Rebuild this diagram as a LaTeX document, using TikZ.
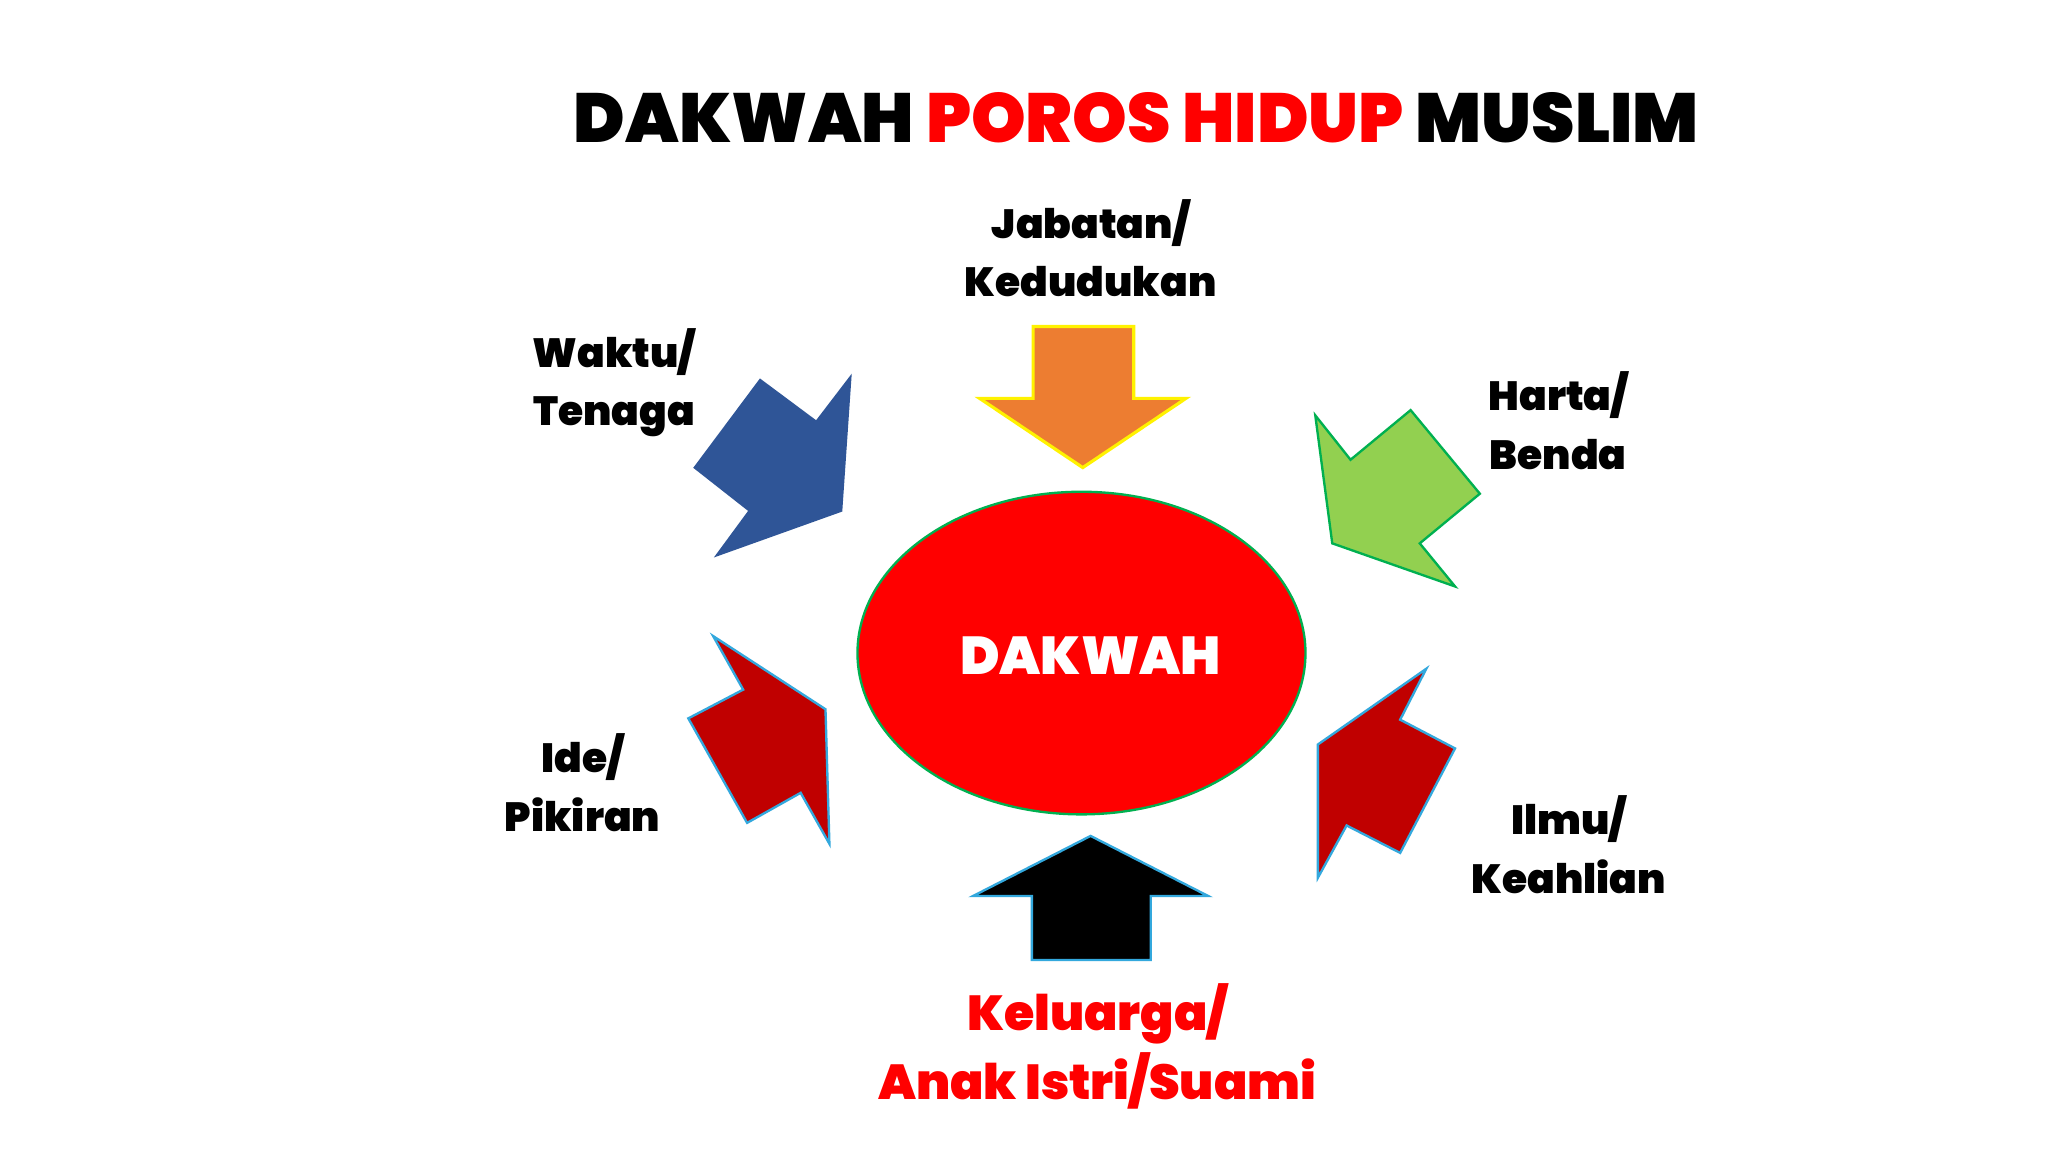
\documentclass[tikz,border=0pt]{standalone}
\usepackage{fontspec}
\IfFontExistsTF{Poppins Black}{\setmainfont{Poppins}[BoldFont={Poppins Black}]}{\setmainfont{Poppins}}
\usetikzlibrary{shapes.geometric}
\definecolor{orangeA}{HTML}{ED7D31}
\definecolor{blueA}{HTML}{2F5597}
\definecolor{greenA}{HTML}{92D050}
\definecolor{greenL}{HTML}{00B050}
\definecolor{darkredA}{HTML}{C00000}
\definecolor{lightblueA}{HTML}{33A8DD}
\definecolor{redA}{HTML}{FF0000}
\tikzset{
  lbl/.style={align=center, font=\bfseries\fontsize{15.6}{22.5}\selectfont, text=black, inner sep=0pt},
  redlbl/.style={align=center, font=\bfseries\fontsize{18.8}{26.5}\selectfont, text=redA, inner sep=0pt},
  arr/.style={line width=0.9pt, line join=miter},
}
\begin{document}
\begin{tikzpicture}[x=0.5pt,y=-0.5pt]
\useasboundingbox (0,0) rectangle (1568,882);
\fill[white] (0,0) rectangle (1568,882);
% title
\node[inner sep=0pt, font=\bfseries\fontsize{26.6}{30}\selectfont] (title) at (870,90) {DAKWAH \textcolor{redA}{POROS HIDUP} MUSLIM};
% ellipse
\node[ellipse, draw=greenL, fill=redA, line width=0.9pt, minimum width=343pt*0.5, minimum height=247pt*0.5, inner sep=0pt] (dak) at (828,500) {};
\node[inner sep=0pt, text=white, font=\bfseries\fontsize{20.4}{24}\selectfont] (dakt) at (835,502) {DAKWAH};
% orange down arrow
\filldraw[arr, fill=orangeA, draw=yellow, line width=1.2pt] (791,250) -- (868,250) -- (868,305) -- (908,305) -- (829,358) -- (750,305) -- (791,305) -- cycle;
% black up arrow
\filldraw[arr, fill=black, draw=lightblueA] (835,640) -- (925,686) -- (881,686) -- (881,735) -- (790,735) -- (790,686) -- (745,686) -- cycle;
% blue arrow
\filldraw[arr, fill=blueA, draw=blueA] (582,291) -- (625,323) -- (651,289) -- (644,391) -- (549,425) -- (574,391) -- (532,358) -- cycle;
% green arrow
\filldraw[arr, fill=greenA, draw=greenL] (1007,318) -- (1034,352) -- (1080,314) -- (1133,378) -- (1087,416) -- (1114,449) -- (1020,416) -- cycle;
% left red arrow
\filldraw[arr, fill=darkredA, draw=lightblueA] (546,487) -- (632,543) -- (635,646) -- (613,607) -- (572,630) -- (527,550) -- (569,528) -- cycle;
% right red arrow
\filldraw[arr, fill=darkredA, draw=lightblueA] (1092,512) -- (1072,551) -- (1114,573) -- (1072,653) -- (1031,632) -- (1009,672) -- (1009,570) -- cycle;
% labels
\node[lbl] (jab) at (835,190) {Jabatan/\\Kedudukan};
\node[lbl] (wak) at (470,293) {Waktu/\\Tenaga};
\node[lbl] (har) at (1193,322) {Harta/\\Benda};
\node[lbl] (ide) at (446,599) {Ide/\\Pikiran};
\node[lbl] (ilm) at (1201,647) {Ilmu/\\Keahlian};
\node[redlbl] (kel) at (840,801) {Keluarga/\\Anak Istri/Suami};
\end{tikzpicture}
\end{document}
